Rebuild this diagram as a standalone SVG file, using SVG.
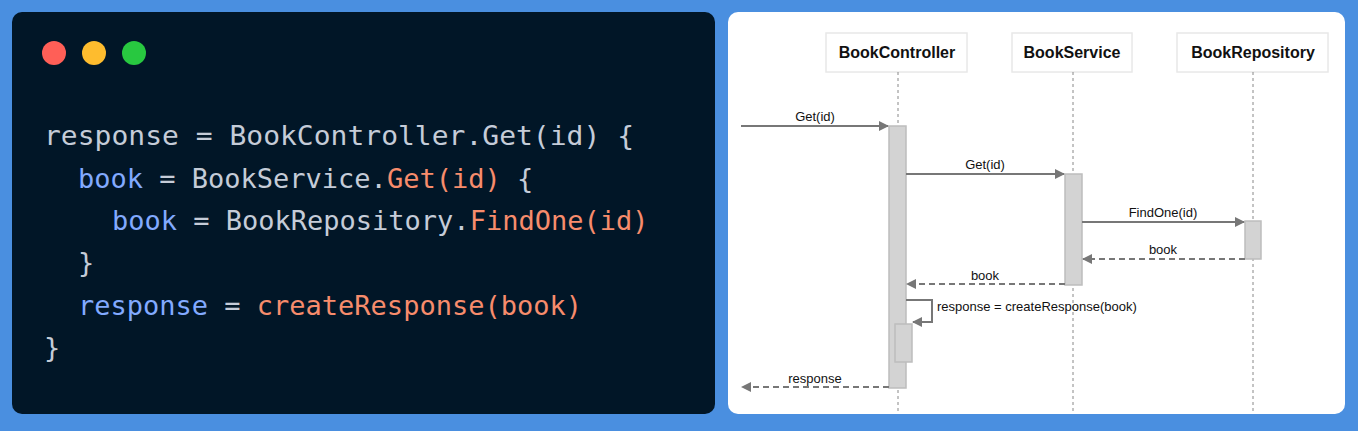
<svg xmlns="http://www.w3.org/2000/svg" width="1358" height="431" viewBox="0 0 1358 431">
<style>
.code{font-family:"DejaVu Sans Mono","Liberation Mono",monospace;font-size:27px;fill:#c5ccd8}
.b{fill:#82aaff}.o{fill:#f78c6c}
.hdr{fill:#fff;stroke:#e8e8e8;stroke-width:1.5}
.ht{font-family:"Liberation Sans",Arial,sans-serif;font-size:16px;font-weight:bold;fill:#111;text-anchor:middle}
.life{stroke:#888;stroke-width:1;stroke-dasharray:3,3}
.act{fill:#d3d3d3;stroke:#bdbdbd;stroke-width:1.5}
.msg{stroke:#777;stroke-width:2;fill:none}
.ret{stroke:#777;stroke-width:2;fill:none;stroke-dasharray:6,4}
.lbl{font-family:"Liberation Sans",Arial,sans-serif;font-size:13px;fill:#111;text-anchor:middle}
</style>
<defs>
<marker id="ah" markerWidth="10" markerHeight="10" refX="9" refY="5" orient="auto" markerUnits="userSpaceOnUse" viewBox="0 0 10 10"><path d="M0,0 L10,5 L0,10 z" fill="#777"/></marker>
</defs>
<rect width="1358" height="431" fill="#4a8fe0"/>
<g id="code-panel">
<rect x="12" y="12" width="703" height="402" rx="10" fill="#011627"/>
<circle cx="54" cy="53" r="12" fill="#ff5f57"/>
<circle cx="94" cy="53" r="12" fill="#febc2e"/>
<circle cx="134" cy="53" r="12" fill="#28c840"/>
<text class="code" x="44" y="145" textLength="590" lengthAdjust="spacingAndGlyphs">response = BookController.Get(id) {</text>
<text class="code" x="78" y="188"><tspan class="b">book</tspan> = BookService.<tspan class="o">Get(id)</tspan> {</text>
<text class="code" x="112" y="230"><tspan class="b">book</tspan> = BookRepository.<tspan class="o">FindOne(id)</tspan></text>
<text class="code" x="78" y="272">}</text>
<text class="code" x="78" y="315"><tspan class="b">response</tspan> = <tspan class="o">createResponse(book)</tspan></text>
<text class="code" x="44" y="357">}</text>
</g>
<rect x="728" y="12" width="617" height="402" rx="10" fill="#fff"/>
<g id="BookController">
<rect class="hdr" x="826" y="33" width="141" height="39"/>
<text class="ht" x="897" y="58">BookController</text>
<line class="life" x1="898" y1="72" x2="898" y2="414"/>
</g>
<g id="BookService">
<rect class="hdr" x="1012" y="33" width="120" height="39"/>
<text class="ht" x="1072" y="58">BookService</text>
<line class="life" x1="1073" y1="72" x2="1073" y2="414"/>
</g>
<g id="BookRepository">
<rect class="hdr" x="1177" y="33" width="151" height="39"/>
<text class="ht" x="1253" y="58">BookRepository</text>
<line class="life" x1="1253" y1="72" x2="1253" y2="414"/>
</g>
<g id="activations">
<rect class="act" x="889" y="126" width="17" height="262"/>
<rect class="act" x="1065" y="174" width="17" height="111"/>
<rect class="act" x="1245" y="221" width="16" height="38"/>
<rect class="act" x="895" y="324" width="17" height="38"/>
</g>
<g id="connectors">
<line class="msg" x1="741" y1="126" x2="888" y2="126" marker-end="url(#ah)"/>
<text class="lbl" x="815" y="121">Get(id)</text>
<line class="msg" x1="906" y1="174" x2="1064" y2="174" marker-end="url(#ah)"/>
<text class="lbl" x="985" y="169">Get(id)</text>
<line class="msg" x1="1082" y1="222" x2="1244" y2="222" marker-end="url(#ah)"/>
<text class="lbl" x="1163" y="217">FindOne(id)</text>
<line class="ret" x1="1245" y1="259" x2="1083" y2="259" marker-end="url(#ah)"/>
<text class="lbl" x="1163" y="254">book</text>
<line class="ret" x1="1065" y1="284" x2="907" y2="284" marker-end="url(#ah)"/>
<text class="lbl" x="985" y="280">book</text>
<path class="msg" d="M906,300 H932 V322 H913" marker-end="url(#ah)"/>
<text class="lbl" x="937" y="311" style="text-anchor:start">response = createResponse(book)</text>
<line class="ret" x1="889" y1="387" x2="742" y2="387" marker-end="url(#ah)"/>
<text class="lbl" x="815" y="383">response</text>
</g>
</svg>
